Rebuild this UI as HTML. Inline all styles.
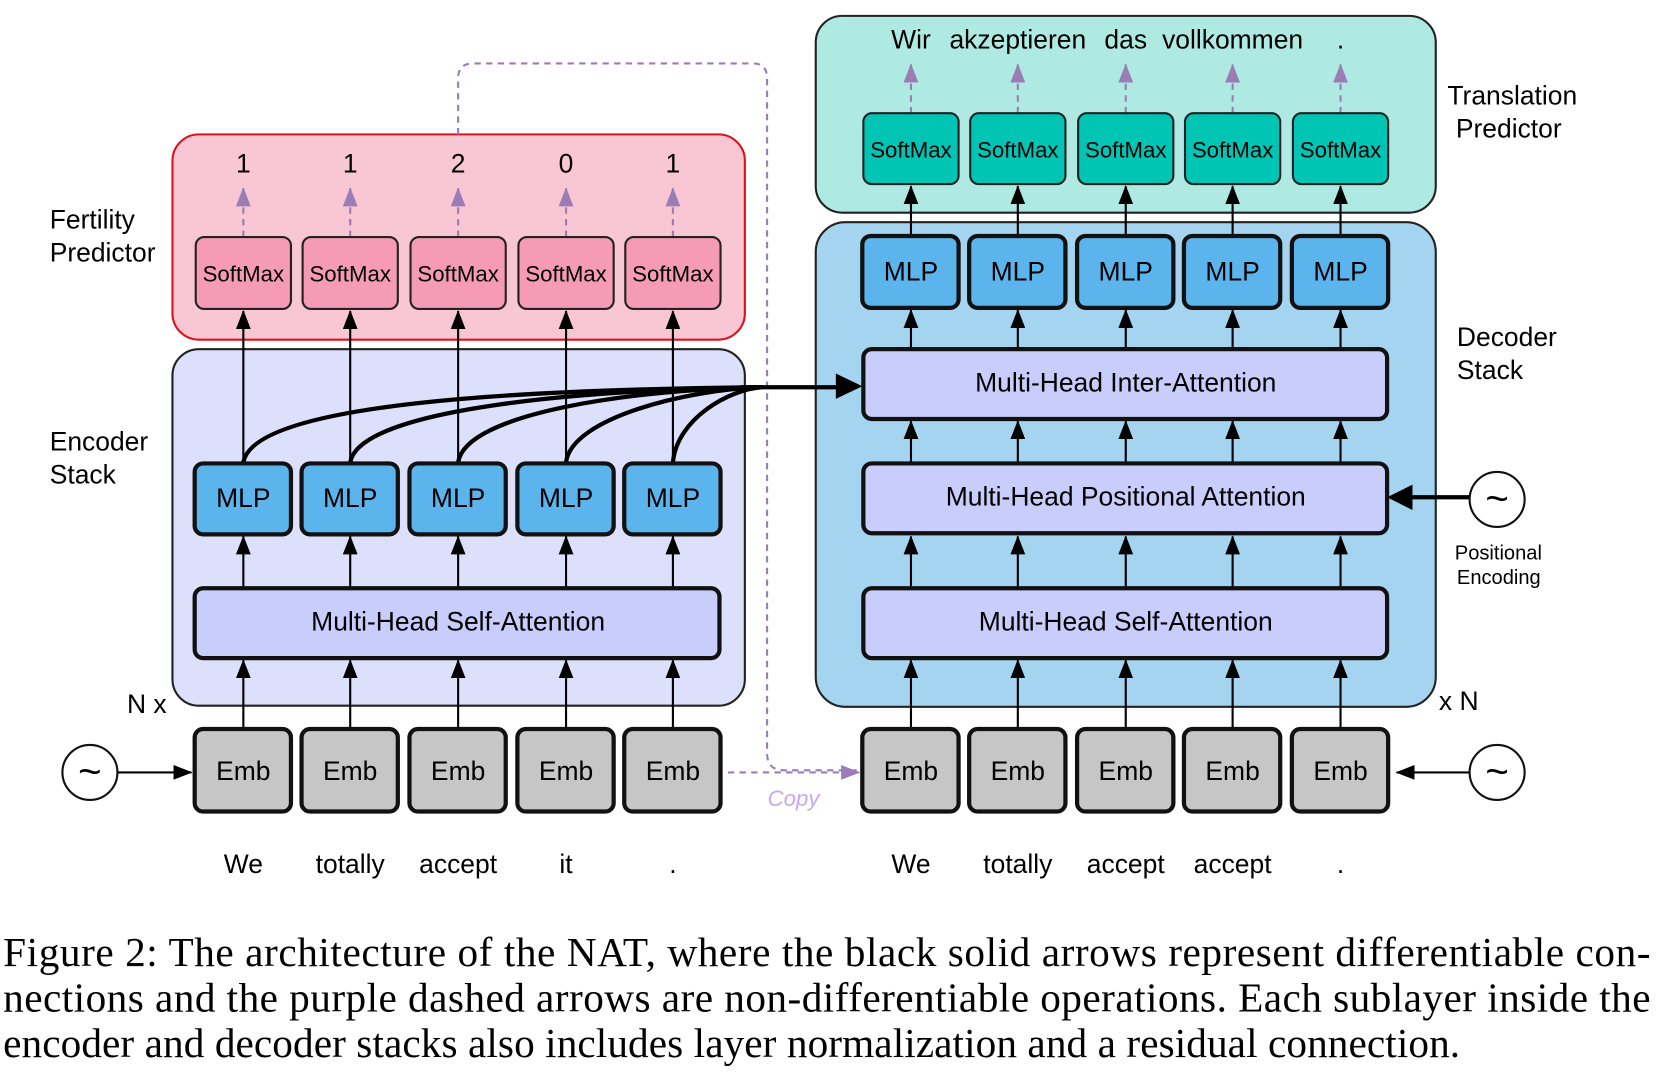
<!DOCTYPE html>
<html><head><meta charset="utf-8"><style>html,body{margin:0;padding:0;background:#fff}svg{display:block}</style></head>
<body>
<svg width="1659" height="1075" viewBox="0 0 1568 1016" preserveAspectRatio="none" xmlns="http://www.w3.org/2000/svg" font-family="Liberation Sans, sans-serif">
<defs>
<marker id="ab" markerWidth="18" markerHeight="14" refX="17" refY="7" orient="auto" markerUnits="userSpaceOnUse" viewBox="0 0 18 14"><path d="M0,0 L18,7 L0,14z" fill="#000"/></marker>
<marker id="ap" markerWidth="18" markerHeight="14" refX="17" refY="7" orient="auto" markerUnits="userSpaceOnUse" viewBox="0 0 18 14"><path d="M0,0 L18,7 L0,14z" fill="#9b7db5"/></marker>
</defs>
<style>
.t{font-size:25px;text-anchor:middle;fill:#000}
.s{font-size:21px;text-anchor:middle;fill:#000}
.l{font-size:25px;fill:#000}
.c{font-family:"Liberation Serif",serif;font-size:39px;fill:#000}
</style>
<rect x="163" y="127" width="541" height="194" rx="25" fill="#f9c6d4" stroke="#d9141f" stroke-width="2"/>
<rect x="163" y="330" width="541" height="337" rx="25" fill="#dde0fb" stroke="#222" stroke-width="2"/>
<rect x="771" y="15" width="586" height="186" rx="25" fill="#aeeae2" stroke="#222" stroke-width="2"/>
<rect x="771" y="210" width="586" height="458" rx="28" fill="#a5d4f1" stroke="#222" stroke-width="2"/>
<path d="M433,127 L433,74 Q433,60 447,60 L712,60 Q725,60 725,74 L725,712 Q725,728 741,728 L810,728" fill="none" stroke="#9b7db5" stroke-width="2" stroke-dasharray="6,5"/>
<path d="M688,730 L812,730" fill="none" stroke="#9b7db5" stroke-width="2" stroke-dasharray="6,5" marker-end="url(#ap)"/>
<text x="750" y="762" font-size="21" font-style="italic" fill="#c6a8f0" text-anchor="middle">Copy</text>
<g stroke="#000" stroke-width="2" fill="none" marker-end="url(#ab)">
<path d="M230,688 V624"/><path d="M331,688 V624"/><path d="M433,688 V624"/><path d="M535,688 V624"/><path d="M636,688 V624"/>
<path d="M230,555 V507"/><path d="M331,555 V507"/><path d="M433,555 V507"/><path d="M535,555 V507"/><path d="M636,555 V507"/>
<path d="M230,437 V294"/><path d="M331,437 V294"/><path d="M433,437 V294"/><path d="M535,437 V294"/><path d="M636,437 V294"/>
<path d="M861,688 V624"/><path d="M962,688 V624"/><path d="M1064,688 V624"/><path d="M1165,688 V624"/><path d="M1267,688 V624"/>
<path d="M861,555 V507"/><path d="M962,555 V507"/><path d="M1064,555 V507"/><path d="M1165,555 V507"/><path d="M1267,555 V507"/>
<path d="M861,437 V398"/><path d="M962,437 V398"/><path d="M1064,437 V398"/><path d="M1165,437 V398"/><path d="M1267,437 V398"/>
<path d="M861,329 V293"/><path d="M962,329 V293"/><path d="M1064,329 V293"/><path d="M1165,329 V293"/><path d="M1267,329 V293"/>
<path d="M861,222 V176"/><path d="M962,222 V176"/><path d="M1064,222 V176"/><path d="M1165,222 V176"/><path d="M1267,222 V176"/>
<path d="M111,730 H181"/><path d="M1389,730 H1320"/>
</g>
<g stroke="#000" stroke-width="4" fill="none">
<path d="M230,437 C240,380 500,368 720,366"/>
<path d="M331,437 C340,385 560,368 720,366"/>
<path d="M433,437 C440,390 600,368 720,366"/>
<path d="M535,437 C540,395 650,368 720,366"/>
<path d="M636,437 C640,395 690,368 720,366"/>
<path d="M700,366 H792"/>
<path d="M1389,470 H1335"/>
</g>
<path d="M815,365 L790,353 L790,377z" fill="#000"/>
<path d="M1311,470 L1335,458 L1335,482z" fill="#000"/>
<g stroke="#9b7db5" stroke-width="2" stroke-dasharray="6,5" fill="none" marker-end="url(#ap)">
<path d="M230,224 V178"/><path d="M331,224 V178"/><path d="M433,224 V178"/><path d="M535,224 V178"/><path d="M636,224 V178"/>
<path d="M861,107 V61"/><path d="M962,107 V61"/><path d="M1064,107 V61"/><path d="M1165,107 V61"/><path d="M1267,107 V61"/>
</g>
<g fill="#f59bb7" stroke="#222" stroke-width="2">
<rect x="185" y="224" width="90" height="68" rx="8"/><rect x="286" y="224" width="90" height="68" rx="8"/><rect x="388" y="224" width="90" height="68" rx="8"/><rect x="490" y="224" width="90" height="68" rx="8"/><rect x="591" y="224" width="90" height="68" rx="8"/>
</g>
<g fill="#00c5b5" stroke="#222" stroke-width="2">
<rect x="816" y="107" width="90" height="67" rx="8"/><rect x="917" y="107" width="90" height="67" rx="8"/><rect x="1019" y="107" width="90" height="67" rx="8"/><rect x="1120" y="107" width="90" height="67" rx="8"/><rect x="1222" y="107" width="90" height="67" rx="8"/>
</g>
<text class="s" x="230" y="266">SoftMax</text><text class="s" x="331" y="266">SoftMax</text><text class="s" x="433" y="266">SoftMax</text><text class="s" x="535" y="266">SoftMax</text><text class="s" x="636" y="266">SoftMax</text>
<text class="s" x="861" y="149">SoftMax</text><text class="s" x="962" y="149">SoftMax</text><text class="s" x="1064" y="149">SoftMax</text><text class="s" x="1165" y="149">SoftMax</text><text class="s" x="1267" y="149">SoftMax</text>
<g fill="#5bb4ec" stroke="#111" stroke-width="4">
<rect x="184" y="438" width="91" height="67" rx="8"/><rect x="285" y="438" width="91" height="67" rx="8"/><rect x="387" y="438" width="91" height="67" rx="8"/><rect x="489" y="438" width="91" height="67" rx="8"/><rect x="590" y="438" width="91" height="67" rx="8"/>
<rect x="815" y="223" width="91" height="68" rx="8"/><rect x="916" y="223" width="91" height="68" rx="8"/><rect x="1018" y="223" width="91" height="68" rx="8"/><rect x="1119" y="223" width="91" height="68" rx="8"/><rect x="1221" y="223" width="91" height="68" rx="8"/>
</g>
<text class="t" x="230" y="479">MLP</text><text class="t" x="331" y="479">MLP</text><text class="t" x="433" y="479">MLP</text><text class="t" x="535" y="479">MLP</text><text class="t" x="636" y="479">MLP</text>
<text class="t" x="861" y="265">MLP</text><text class="t" x="962" y="265">MLP</text><text class="t" x="1064" y="265">MLP</text><text class="t" x="1165" y="265">MLP</text><text class="t" x="1267" y="265">MLP</text>
<g fill="#c9cdfc" stroke="#111" stroke-width="4">
<rect x="184" y="556" width="496" height="66" rx="8"/>
<rect x="816" y="330" width="495" height="66" rx="8"/>
<rect x="816" y="438" width="495" height="66" rx="8"/>
<rect x="816" y="556" width="495" height="66" rx="8"/>
</g>
<text class="t" x="433" y="596">Multi-Head Self-Attention</text>
<text class="t" x="1064" y="370">Multi-Head Inter-Attention</text>
<text class="t" x="1064" y="478">Multi-Head Positional Attention</text>
<text class="t" x="1064" y="596">Multi-Head Self-Attention</text>
<g fill="#c6c6c6" stroke="#111" stroke-width="4">
<rect x="184" y="689" width="91" height="78" rx="8"/><rect x="285" y="689" width="91" height="78" rx="8"/><rect x="387" y="689" width="91" height="78" rx="8"/><rect x="489" y="689" width="91" height="78" rx="8"/><rect x="590" y="689" width="91" height="78" rx="8"/>
<rect x="815" y="689" width="91" height="78" rx="8"/><rect x="916" y="689" width="91" height="78" rx="8"/><rect x="1018" y="689" width="91" height="78" rx="8"/><rect x="1119" y="689" width="91" height="78" rx="8"/><rect x="1221" y="689" width="91" height="78" rx="8"/>
</g>
<text class="t" x="230" y="737">Emb</text><text class="t" x="331" y="737">Emb</text><text class="t" x="433" y="737">Emb</text><text class="t" x="535" y="737">Emb</text><text class="t" x="636" y="737">Emb</text>
<text class="t" x="861" y="737">Emb</text><text class="t" x="962" y="737">Emb</text><text class="t" x="1064" y="737">Emb</text><text class="t" x="1165" y="737">Emb</text><text class="t" x="1267" y="737">Emb</text>
<g fill="#fff" stroke="#111" stroke-width="2">
<circle cx="85" cy="730" r="26"/><circle cx="1415" cy="730" r="26"/><circle cx="1415" cy="472" r="26"/>
</g>
<text x="85" y="742" font-size="38" text-anchor="middle">~</text><text x="1415" y="742" font-size="38" text-anchor="middle">~</text><text x="1415" y="484" font-size="38" text-anchor="middle">~</text>
<text class="t" x="230" y="163">1</text><text class="t" x="331" y="163">1</text><text class="t" x="433" y="163">2</text><text class="t" x="535" y="163">0</text><text class="t" x="636" y="163">1</text>
<text class="t" x="861" y="46">Wir</text><text class="t" x="962" y="46">akzeptieren</text><text class="t" x="1064" y="46">das</text><text class="t" x="1165" y="46">vollkommen</text><text class="t" x="1267" y="46">.</text>
<text class="t" x="230" y="825">We</text><text class="t" x="331" y="825">totally</text><text class="t" x="433" y="825">accept</text><text class="t" x="535" y="825">it</text><text class="t" x="636" y="825">.</text>
<text class="t" x="861" y="825">We</text><text class="t" x="962" y="825">totally</text><text class="t" x="1064" y="825">accept</text><text class="t" x="1165" y="825">accept</text><text class="t" x="1267" y="825">.</text>
<text class="l" x="47" y="216">Fertility</text><text class="l" x="47" y="247">Predictor</text>
<text class="l" x="47" y="426">Encoder</text><text class="l" x="47" y="457">Stack</text>
<text class="l" x="120" y="674">N x</text>
<text class="l" x="1368" y="99">Translation</text><text class="l" x="1376" y="130">Predictor</text>
<text class="l" x="1377" y="327">Decoder</text><text class="l" x="1377" y="358">Stack</text>
<text class="l" x="1360" y="671">x N</text>
<text x="1375" y="529" font-size="19" fill="#000">Positional</text>
<text x="1377" y="552" font-size="19" fill="#000">Encoding</text>
<text class="c" x="3" y="913" textLength="1557" lengthAdjust="spacing">Figure 2:   The architecture of the NAT, where the black solid arrows represent differentiable con-</text>
<text class="c" x="3" y="956" textLength="1557" lengthAdjust="spacing">nections and the purple dashed arrows are non-differentiable operations.  Each sublayer inside the</text>
<text class="c" x="3" y="999" textLength="1377" lengthAdjust="spacing">encoder and decoder stacks also includes layer normalization and a residual connection.</text>
</svg>
</body></html>
